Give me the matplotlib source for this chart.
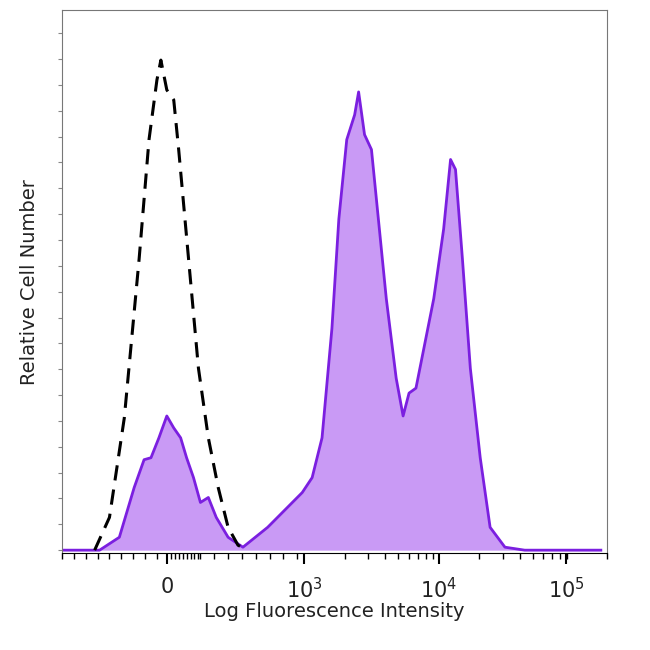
import matplotlib
matplotlib.use("Agg")
import matplotlib.pyplot as plt
import numpy as np

# channel (x) and cell count (y)
stain_x = [0, 38, 58, 73, 83, 90, 98, 106, 113, 120, 126, 133, 140, 148, 156, 168, 183,
           208, 228, 243, 253, 263, 273, 280, 288, 296, 300, 306, 313, 318, 328, 338, 345,
           351, 358, 366, 376, 386, 393, 398, 405, 413, 423, 433, 448, 468, 545]
stain_y = [0, 0, 13, 63, 91, 93, 113, 135, 123, 113, 93, 73, 48, 53, 33, 13, 3,
           23, 43, 58, 73, 113, 223, 333, 413, 438, 461, 418, 403, 353, 253, 173, 135,
           158, 163, 203, 253, 323, 393, 383, 293, 183, 93, 23, 3, 0, 0]
ctrl_x = [33, 48, 63, 78, 88, 96, 100, 106, 113, 118, 128, 138, 148, 158, 168, 178, 188]
ctrl_y = [0, 33, 133, 293, 413, 473, 493, 463, 453, 403, 293, 183, 113, 63, 23, 5, 0]

major_pos = [106, 245, 381, 510]
major_lab = ["0", "10$^3$", "10$^4$", "10$^5$"]

fig = plt.figure(figsize=(6.5, 6.5), dpi=100)
ax = fig.add_axes([0.0954, 0.149, 0.838, 0.835])
ax.fill_between(stain_x, stain_y, color="#c99af5", lw=0)
ax.plot(stain_x, stain_y, color="#7b1fe0", lw=2, solid_joinstyle="round")
ax.plot(ctrl_x, ctrl_y, color="black", lw=2.2, ls=(0, (5, 3)))
ax.set_xlim(0, 545)
ax.set_ylim(-3, 543)
ax.set_xticks(major_pos)
ax.set_xticklabels(major_lab, fontsize=15, color="#222222")
minor = list(np.arange(0, 106, 12)) + list(np.arange(106, 140, 4)) + \
        [245 + 136*np.log10(k) for k in range(2, 10)] + [381 + 136*np.log10(k) for k in range(2, 10)] + \
        [510 + 136*np.log10(k) for k in range(2, 3)] + list(np.arange(140, 245, 14))
ax.set_xticks(minor, minor=True)
ax.tick_params(axis="x", which="major", length=8, width=1.5, direction="out", pad=9)
ax.tick_params(axis="x", which="minor", length=4, width=1, direction="out")
ax.set_yticks(np.arange(0, 543, 26))
ax.set_yticklabels([])
ax.tick_params(axis="y", length=3, direction="out", color="#888888")
for s in ax.spines.values():
    s.set_color("#777777")
ax.spines["bottom"].set_color("black")
ax.set_xlabel("Log Fluorescence Intensity", fontsize=14, labelpad=0, color="#222222")
ax.set_ylabel("Relative Cell Number", fontsize=14, labelpad=10, color="#222222")
fig.savefig("out.png", dpi=100)
